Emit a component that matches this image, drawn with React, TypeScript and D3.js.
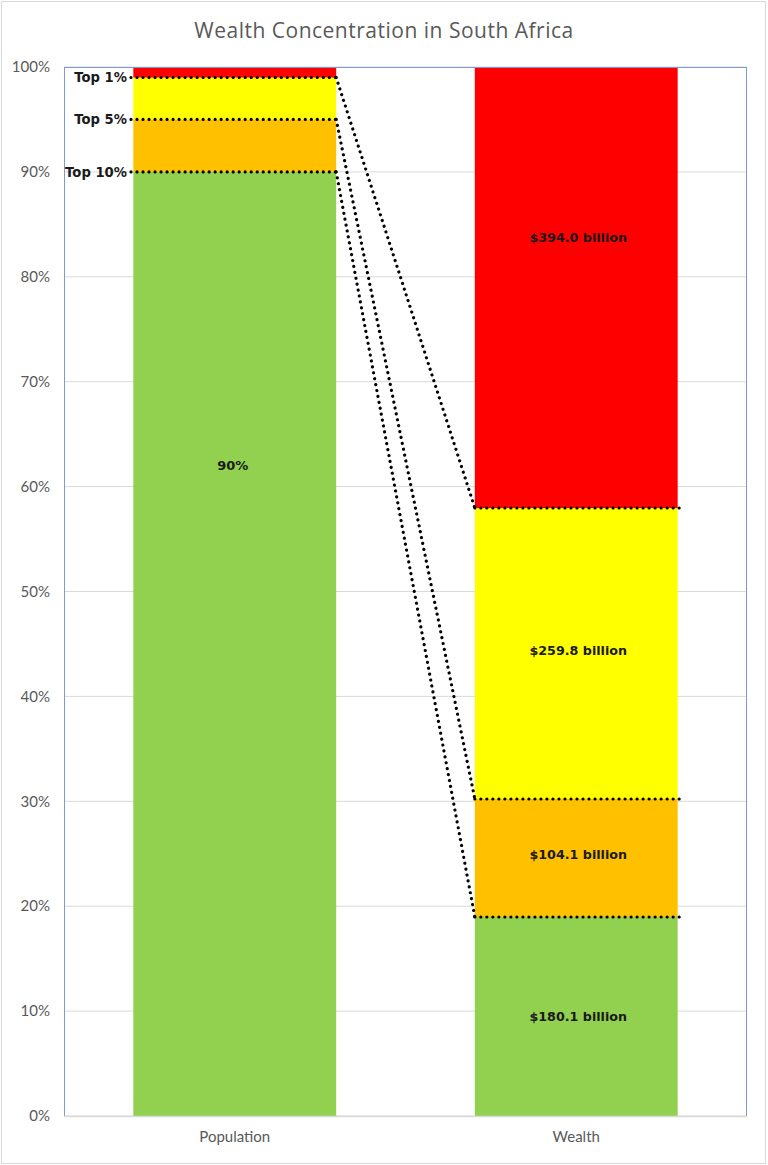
import * as d3 from 'd3';

// chart data
const categories = ['Population', 'Wealth'];
const groups = ['Bottom 90%', 'Next 5%', 'Next 4%', 'Top 1%'];
const populationShare = [90, 5, 4, 1];
const wealthShare = [18.97, 11.25, 27.74, 42.04];
const wealthBillions = [180.1, 104.1, 259.8, 394.0];
const colors = ['#92D050', '#FFC000', '#FFFF00', '#FF0000'];
const topLabels = ['Top 10%', 'Top 5%', 'Top 1%'];
const yTicks = [0, 10, 20, 30, 40, 50, 60, 70, 80, 90, 100];

const W = 768;
const H = 1165;
const m = { left: 64, right: 21, top: 67, bottom: 49 };
const axisFont = 'Lato, "Open Sans", sans-serif';
const titleFont = '"Open Sans", Lato, sans-serif';
const boldFont = '"DejaVu Sans", Verdana, sans-serif';

const stackUp = (vals: number[]) => {
  let acc = 0;
  return vals.map((v) => {
    const s = { y0: acc, y1: acc + v };
    acc += v;
    return s;
  });
};

export default function App() {
  const x = d3.scaleBand()
    .domain(categories)
    .range([m.left, W - m.right])
    .paddingInner(0.406)
    .paddingOuter(0.203);
  const y = d3.scaleLinear().domain([0, 100]).range([H - m.bottom, m.top]);

  const popStack = stackUp(populationShare);
  const wStack = stackUp(wealthShare);
  const bw = x.bandwidth();
  const px = x('Population') as number;
  const wx = x('Wealth') as number;

  // labels that were dragged away from the segment middle in the original
  const popLabelAt = 62;
  const topWealthLabelAt = 83.7;

  // cut lines: top of bottom 90%, next 5%, next 4%
  const cuts = [0, 1, 2].map((i) => ({
    label: topLabels[i],
    pop: popStack[i].y1,
    wealth: wStack[i].y1,
  }));

  const dotted = {
    stroke: '#000',
    strokeWidth: 3.2,
    strokeDasharray: '0.01 6',
    strokeLinecap: 'round' as const,
    fill: 'none',
  };

  return (
    <svg width={W} height={H} style={{ position: 'absolute', left: 0, top: 0, background: '#fff' }}>
      <style>{'body{margin:0}'}</style>
      <rect x={1.5} y={1.5} width={W - 4} height={H - 3} fill="#fff" stroke="#D9D9D9" />
      <text x={W / 2} y={38} textAnchor="middle" fontFamily={titleFont} fontSize={21} letterSpacing={0.5} fill="#595959">
        Wealth Concentration in South Africa
      </text>

      {yTicks.map((t) => (
        <g key={t}>
          <line x1={m.left} x2={W - m.right} y1={y(t)} y2={y(t)} stroke="#D9D9D9" strokeWidth={1} />
          <text x={50} y={y(t)} dy="0.35em" textAnchor="end" fontFamily={axisFont} fontSize={15} fill="#595959">
            {t}%
          </text>
        </g>
      ))}

      {popStack.map((s, i) => (
        <rect key={'p' + i} x={px} y={y(s.y1)} width={bw} height={y(s.y0) - y(s.y1)} fill={colors[i]} />
      ))}
      {wStack.map((s, i) => (
        <rect key={'w' + i} x={wx} y={y(s.y1)} width={bw} height={y(s.y0) - y(s.y1)} fill={colors[i]} />
      ))}

      <rect x={m.left + 0.5} y={m.top + 0.5} width={W - m.left - m.right - 1} height={H - m.top - m.bottom} fill="none" stroke="#7C98D6" strokeWidth={1} />
      <line x1={m.left} x2={W - m.right} y1={y(0) + 0.5} y2={y(0) + 0.5} stroke="#D9D9D9" strokeWidth={1.5} />

      {categories.map((c) => (
        <text key={c} x={(x(c) as number) + bw / 2} y={1142} textAnchor="middle" fontFamily={axisFont} fontSize={15} fill="#595959">
          {c}
        </text>
      ))}

      <text x={px + bw / 2 - 2} y={y(popLabelAt)} dy="0.35em" textAnchor="middle" fontFamily={boldFont} fontWeight="bold" fontSize={13} fill="#1a1a1a">
        {populationShare[0]}%
      </text>
      {wStack.map((s, i) => (
        <text
          key={'wl' + i}
          x={wx + bw / 2 + 2}
          y={y(i === 3 ? topWealthLabelAt : (s.y0 + s.y1) / 2) - (i === 1 || i === 2 ? 3 : 0)}
          dy="0.35em"
          textAnchor="middle"
          fontFamily={boldFont}
          fontWeight="bold"
          fontSize={12.7}
          fill="#1a1a1a"
        >
          ${wealthBillions[i].toFixed(1)} billion
        </text>
      ))}

      {cuts.map((c) => (
        <g key={c.label}>
          <line x1={131} x2={px + bw} y1={y(c.pop)} y2={y(c.pop)} {...dotted} />
          <line x1={px + bw} x2={wx} y1={y(c.pop)} y2={y(c.wealth)} {...dotted} />
          <line x1={wx} x2={wx + bw + 3} y1={y(c.wealth)} y2={y(c.wealth)} {...dotted} />
          <text x={127} y={y(c.pop)} dy="0.35em" textAnchor="end" fontFamily={boldFont} fontWeight="bold" fontSize={13.2} fill="#1a1a1a">
            {c.label}
          </text>
        </g>
      ))}
    </svg>
  );
}
